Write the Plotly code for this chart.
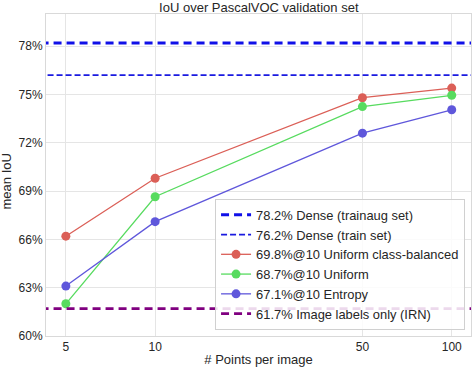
import plotly.graph_objects as go

points = [5, 10, 50, 100]
uniform_cb = [66.2, 69.8, 74.8, 75.4]
uniform = [62.0, 68.65, 74.25, 74.95]
entropy = [63.1, 67.1, 72.6, 74.05]

dense_trainaug = 78.2
dense_train = 76.2
irn = 61.7

yticks = [60, 63, 66, 69, 72, 75, 78]
xticks = [5, 10, 50, 100]

red = "#db5f57"
green = "#57db5f"
blue = "#5f57db"

fig = go.Figure()
span = [1, 1000]
fig.add_trace(go.Scatter(x=span, y=[dense_trainaug]*2, mode="lines",
                         line=dict(color="#1010e8", width=3, dash="8px,5px"),
                         name="78.2% Dense (trainaug set)"))
fig.add_trace(go.Scatter(x=span, y=[dense_train]*2, mode="lines",
                         line=dict(color="#1a1ae0", width=1.8, dash="6px,3px"),
                         name="76.2% Dense (train set)"))
for ys, c, n in [(uniform_cb, red, "69.8%@10 Uniform class-balanced"),
                 (uniform, green, "68.7%@10 Uniform"),
                 (entropy, blue, "67.1%@10 Entropy")]:
    fig.add_trace(go.Scatter(x=points, y=ys, mode="lines+markers",
                             line=dict(color=c, width=1.3),
                             marker=dict(color=c, size=9),
                             name=n))
fig.add_trace(go.Scatter(x=span, y=[irn]*2, mode="lines",
                         line=dict(color="#800080", width=2.6, dash="8px,5px"),
                         name="61.7% Image labels only (IRN)"))

font = dict(family="Liberation Sans, Arial, sans-serif", size=12, color="#262626")
fig.update_layout(
    width=474, height=367,
    margin=dict(l=46, r=3, t=14, b=31),
    paper_bgcolor="white", plot_bgcolor="white",
    font=font,
    title=dict(text="IoU over PascalVOC validation set", x=0.546, xanchor="center",
               y=1-7/367, yanchor="middle", font=dict(size=13, color="#262626")),
    xaxis=dict(type="log", range=[0.632, 2.065], tickvals=xticks,
               ticktext=[str(v) for v in xticks], automargin=False,
               showgrid=True, gridcolor="#e5e5e5", gridwidth=1.2,
               showline=True, linecolor="#d9d9d9", mirror=True, zeroline=False,
               ticks="", title=dict(text="# Points per image", font=dict(size=13))),
    yaxis=dict(range=[60, 80], tickvals=yticks, automargin=False,
               ticktext=[f"{v}%" for v in yticks],
               showgrid=True, gridcolor="#e5e5e5", gridwidth=1.2,
               showline=True, linecolor="#d9d9d9", mirror=True, zeroline=False,
               ticks=""),
    annotations=[dict(text="mean IoU", xref="paper", yref="paper",
                      x=-0.094, y=0.48, xanchor="center", yanchor="middle",
                      textangle=-90, showarrow=False,
                      font=dict(size=13, color="#262626"))],
    legend=dict(x=0.986, xanchor="right", y=0.019, yanchor="bottom",
                bgcolor="rgba(255,255,255,0.85)", bordercolor="#d0d0d0", borderwidth=1,
                font=dict(size=12.9, color="#262626"), itemwidth=30,
                tracegroupgap=0),
)
fig.write_html("out.html", config={"displayModeBar": False},
               post_script="document.body.style.margin='0';")
